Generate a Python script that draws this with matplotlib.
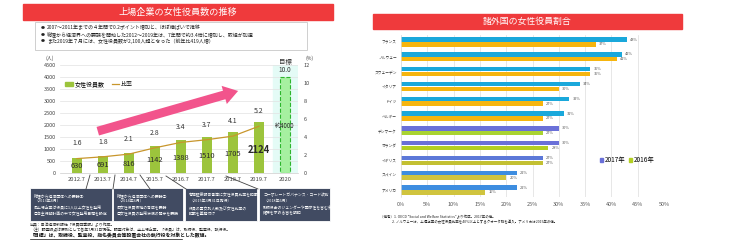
import matplotlib
matplotlib.use('Agg')
import matplotlib.pyplot as plt
from matplotlib.patches import Rectangle, FancyArrowPatch
from matplotlib.lines import Line2D

plt.rcParams['font.family'] = ['Noto Sans CJK JP', 'DejaVu Sans']

# left chart data
years = ['2012.7', '2013.7', '2014.7', '2015.7', '2016.7', '2017.7', '2018.7', '2019.7', '2020']
members = [630, 691, 816, 1142, 1388, 1510, 1705, 2124]
ratio = [1.6, 1.8, 2.1, 2.8, 3.4, 3.7, 4.1, 5.2]
target_members = 4000
target_ratio = 10.0

# right chart data
countries = ['フランス', 'ノルウェー', 'スウェーデン', 'イタリア', 'ドイツ', 'ベルギー',
             'デンマーク', 'オランダ', 'イギリス', 'スペイン', 'アメリカ']
share_2017 = [43, 42, 36, 34, 32, 31, 30, 30, 27, 22, 22]
share_2016 = [37, 41, 36, 30, 27, 27, 27, 28, 27, 20, 16]

bullets = [
    '2007～2011年までの４年間で0.2ポイント増加と、ほぼ横ばいで推移',
    '総理から経済界への要請を開始した2012～2019年は、7年間で約3.4倍に増加し、取組が加速',
    'また2019年７月には、女性役員数が2,100人超となった（前年比419人増）',
]
boxes = [
    ('総理から経済団体への要請①\n（2013年4月）', '①上場企業は役員に1人以上女性を登用\n②自主行動計画の中で女性登用目標を設定'),
    ('総理から経済団体への要請②\n（2014年6月）', '①女性役員候補の育成を要請\n②女性役員の登用状況の開示を要請'),
    ('有価証券報告書等に女性役員比率を記載\n（2015年3月31日施行）', '役員の男女別人数及び女性比率の\n記載を義務付け'),
    ('コーポレートガバナンス・コード改訂\n（2018年6月）', '取締役会のジェンダーや国際性を含む多様性\n確保を求める旨を明記'),
]

W, H = 729, 245


def box(x0, y0, x1, y1):
    return [x0 / W, 1 - y1 / H, (x1 - x0) / W, (y1 - y0) / H]


def fx(x):
    return x / W


def fy(y):
    return 1 - y / H


fig = plt.figure(figsize=(W / 100, H / 100), dpi=100)

red = '#ef3a3c'
# title bars
fig.add_artist(Rectangle((fx(23), fy(20)), (333 - 23) / W, 16 / H, transform=fig.transFigure, color=red))
fig.text(fx(178), fy(12), '上場企業の女性役員数の推移', color='white', fontsize=6.6, ha='center', va='center')
fig.add_artist(Rectangle((fx(373), fy(29)), (682 - 373) / W, 15 / H, transform=fig.transFigure, color=red))
fig.text(fx(527), fy(21.5), '諸外国の女性役員割合', color='white', fontsize=6.4, ha='center', va='center')

# bullet box
fig.add_artist(Rectangle((fx(35), fy(50)), (307 - 35) / W, 28 / H, transform=fig.transFigure,
                         facecolor='white', edgecolor='#c8c8c8', lw=0.6))
for i, b in enumerate(bullets):
    y = 28 + i * 6.5
    fig.text(fx(41), fy(y), '●', fontsize=2.8, va='center', color='#222')
    fig.text(fx(47), fy(y), b, fontsize=3.6, va='center', color='#222')

# ---- left chart
ax = fig.add_axes(box(60, 65, 298, 173))
x = list(range(len(members)))
ax.axvspan(7.55, 8.5, color='#e4fbf6', zorder=0)
ax.bar(x, members, width=0.38, color='#9cc43c', zorder=2)
ax.bar(len(members), target_members, width=0.38, facecolor='#a6f0a0', edgecolor='#2db52d',
       linestyle='--', linewidth=0.8, zorder=2)
ax.set_xlim(-0.65, 8.5)
ax.set_ylim(0, 4500)
ax.set_yticks(range(0, 4501, 500))
ax.set_xticks(range(len(years)))
ax.set_xticklabels(years, fontsize=4.2, color='#444')
ax.tick_params(axis='y', labelsize=4, colors='#444', length=0, pad=3)
ax.tick_params(axis='x', length=0, pad=3)
ax.yaxis.grid(color='#e2e2e2', lw=0.5)
ax.set_axisbelow(True)
for s in ['top', 'right', 'left']:
    ax.spines[s].set_visible(False)
ax.spines['bottom'].set_color('#cccccc')
ax.spines['bottom'].set_linewidth(0.5)
for i, v in enumerate(members):
    last = i == len(members) - 1
    ax.text(i, v * 0.46, str(v), ha='center', va='center', color='#2a2a2a',
            fontsize=6.8 if last else 5.4, fontweight='bold' if last else 'normal', zorder=4)
ax.text(len(members), target_members * 0.49, '約4000', ha='center', va='center', fontsize=4.4, color='#222', zorder=4)
ax.text(-1.05, 4650, '(人)', fontsize=3.6, color='#444', ha='center', va='bottom')

ax2 = ax.twinx()
ax2.set_ylim(0, 12)
ax2.set_yticks(range(0, 13, 2))
ax2.tick_params(axis='y', labelsize=4, colors='#444', length=0, pad=4)
for s in ax2.spines.values():
    s.set_visible(False)
ax2.plot(x, ratio, color='#c8962c', lw=0.9, zorder=3)
for i, r in enumerate(ratio):
    ax2.annotate(f'{r:.1f}', (i, r), xytext=(0, 8), textcoords='offset points',
                 ha='center', va='bottom', fontsize=5, color='#333')
ax2.annotate(f'{target_ratio:.1f}', (len(members), target_members / 4500 * 12), xytext=(0, 2),
             textcoords='offset points', ha='center', va='bottom', fontsize=4.6, color='#333')
ax2.annotate('目標', (len(members), target_members / 4500 * 12), xytext=(0, 8),
             textcoords='offset points', ha='center', va='bottom', fontsize=4.6, color='#333')
ax2.text(8.95, 12.4, '(%)', fontsize=3.6, color='#444', ha='center', va='bottom')

arrow = FancyArrowPatch((0.7, 1710), (6.3, 3450), transform=ax.transData,
                        arrowstyle='simple,head_width=1.7,head_length=1.3,tail_width=0.8',
                        mutation_scale=8, color='#f2548c', lw=0, zorder=1)
ax.add_patch(arrow)

handles = [Rectangle((0, 0), 1, 1, color='#9cc43c'), Line2D([0], [0], color='#c8962c', lw=0.9)]
ax.legend(handles, ['女性役員数', '比率'], loc='upper left', bbox_to_anchor=(0.0, 0.9), ncol=2,
          frameon=False, fontsize=4.3, handlelength=1.2, handleheight=0.6, columnspacing=1.2,
          handletextpad=0.3)

# policy boxes under the chart
box_pos = [(30, 112), (113, 183), (185, 257), (259, 330)]
for (x0, x1), (head, body) in zip(box_pos, boxes):
    fig.add_artist(Rectangle((fx(x0), fy(221)), (x1 - x0) / W, 33 / H, transform=fig.transFigure,
                             facecolor='#414b62', edgecolor='white', lw=0.6))
    fig.text(fx(x0 + 4), fy(193), head, fontsize=2.8, color='white', va='top', linespacing=1.3)
    fig.text(fx(x0 + 4), fy(206), body, fontsize=2.8, color='white', va='top', linespacing=1.3)

connectors = [((90, 175), (86, 189)), ((115, 175), (113, 189)), ((140, 175), (150, 189)),
              ((166, 176), (186, 189)), ((226, 176), (258, 189))]
for (a, b) in connectors:
    fig.add_artist(Line2D([fx(a[0]), fx(b[0])], [fy(a[1]), fy(b[1])], transform=fig.transFigure,
                          color='#444', lw=0.6))

fig.text(fx(30), fy(225), '出典：東洋経済新報社「役員四季報」より作成。', fontsize=2.8, va='center', color='#222')
fig.text(fx(30), fy(230), '（注）調査時点は原則として各年7月31日現在。調査対象は、全上場企業。「役員」は、取締役、監査役、執行役。',
         fontsize=2.8, va='center', color='#222')
fig.text(fx(30), fy(236), '「目標」は、取締役、監査役、指名委員会等設置会社の執行役を対象とした数値。',
         fontsize=3.5, va='center', color='#111', fontweight='bold')
fig.add_artist(Line2D([fx(30), fx(182)], [fy(239), fy(239)], transform=fig.transFigure, color='#111', lw=0.5))

# ---- right chart
c17 = ['#1aa8db'] * 6 + ['#6a70d8', '#6a70d8', '#5c78d8', '#3d8de0', '#3d8de0']
c16 = ['#f6b50e'] * 6 + ['#a9d330', '#b3cf22', '#c3c032', '#d0c43e', '#d0c43e']
bx = fig.add_axes(box(401, 34.6, 664, 197.4))
rows = list(range(len(countries)))
bx.barh([r - 0.16 for r in rows], share_2017, height=0.3, color=c17, zorder=2)
bx.barh([r + 0.16 for r in rows], share_2016, height=0.3, color=c16, zorder=2)
for r, (a, b) in enumerate(zip(share_2017, share_2016)):
    bx.text(a + 0.6, r - 0.16, f'{a}%', fontsize=2.8, va='center', color='#555')
    bx.text(b + 0.6, r + 0.16, f'{b}%', fontsize=2.8, va='center', color='#555')
bx.set_xlim(0, 50)
bx.set_ylim(10.5, -0.5)
bx.set_xticks(range(0, 51, 5))
bx.set_xticklabels([f'{v}%' for v in range(0, 51, 5)], fontsize=4, color='#555')
bx.set_yticks(rows)
bx.set_yticklabels(countries, fontsize=2.7, color='#333')
bx.tick_params(length=0, pad=3)
bx.xaxis.grid(color='#dddddd', lw=0.5)
bx.set_axisbelow(True)
for s in bx.spines.values():
    s.set_visible(False)
bx.spines['left'].set_visible(True)
bx.spines['left'].set_color('#dddddd')
bx.spines['left'].set_linewidth(0.5)
lh = [Rectangle((0, 0), 1, 1, color='#6a70d8'), Rectangle((0, 0), 1, 1, color='#b3cf22')]
bx.legend(lh, ['2017年', '2016年'], loc='center', bbox_to_anchor=(0.86, 0.23), ncol=2, frameon=False,
          fontsize=4.6, handlelength=0.5, handleheight=0.5, handletextpad=0.2, columnspacing=0.6)

fig.text(fx(380), fy(217), '（備考）1. OECD "Social and Welfare Statistics"より作成。2017年の値。',
         fontsize=2.5, va='center', color='#222')
fig.text(fx(392), fy(221.5), '2. ノルウェーは、上場企業の女性役員比率を40%以上とするクオータ制を導入。アメリカは2015年の値。',
         fontsize=2.5, va='center', color='#222')

fig.savefig('out.png', dpi=100)
